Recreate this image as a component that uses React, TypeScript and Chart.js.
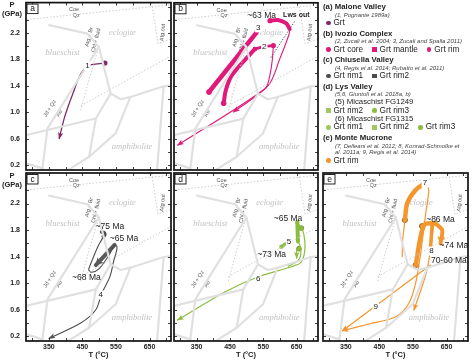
import React, { useEffect, useRef } from 'react';
import { Chart, registerables } from 'chart.js';
Chart.register(...registerables);

type Pt = [number, number];

// ---- axes ----
const T_RANGE: Pt = [282, 714];
const P_RANGE: Pt = [0.13, 2.66];
const tLabels = [350, 450, 550, 650];
const pLabels = [0.2, 0.6, 1.0, 1.4, 1.8, 2.2];
const tTickMarks = [300, 350, 400, 450, 500, 550, 600, 650, 700];
const pTickMarks = [0.2, 0.4, 0.6, 0.8, 1.0, 1.2, 1.4, 1.6, 1.8, 2.0, 2.2, 2.4, 2.6];

// ---- petrogenetic grid (T °C, P GPa) ----
const bgLineA: Pt[] = [[351, 2.32], [465, 2.19], [499, 1.99], [534, 1.285], [564, 1.2], [593, 1.234], [692, 1.395], [720, 1.41]];
const bgLineB: Pt[] = [[534, 1.285], [490, 0.908], [275, 0.65]];
const bgLineC: Pt[] = [[593, 1.234], [549, 0.683], [470, 0.33], [415, 0.155], [395, 0.1]];
const bgLineD: Pt[] = [[490, 0.908], [470, 0.33]];
const bgLineE: Pt[] = [[499, 1.99], [346, 0.758], [331, 0.155], [329, 0.1]];
const bgLineF: Pt[] = [[275, 0.245], [331, 0.155]];
const bgLineG: Pt[] = [[692, 1.395], [672, 0.1]];
const bgDashCoe: Pt[] = [[275, 2.4], [720, 2.63]];
const bgDashAtg: Pt[] = [[655, 2.7], [675, 2.04], [720, 2.12]];
const bgDashChl: Pt[] = [[445, 1.03], [470, 1.5], [499, 1.99]];
const bgDashJd: Pt[] = [[445, 1.1], [529, 1.335], [720, 1.87]];

const faciesNames = ['eclogite', 'blueschist', 'amphibolite'];
const faciesT = [569, 391, 598];
const faciesP = [2.21, 1.9, 0.48];

const reactionNames = ['Coe', 'Qz', 'Atg + Br', 'Chl + fluid', 'Atg out', 'Jd + Qz', 'Ab'];
const reactionT = [425, 432, 470, 491, 689, 353, 381];
const reactionP = [2.55, 2.465, 2.14, 2.09, 2.21, 1.06, 0.985];
const reactionRot = [0, 0, -76, -76, -84, -57, -57];

// ---- (a) Malone Valley ----
const pathMalone: Pt[] = [[517, 1.746], [495, 1.735], [470, 1.711], [447, 1.6], [422, 1.29], [397, 0.93], [381, 0.607]];
const grtMalone: Pt[] = [[517, 1.746]];

// ---- (b) Ivozio Complex ----
const bandIvozio3: Pt[] = [[387, 1.31], [530, 2.213]];
const bandIvozio2: Pt[] = [[431, 1.14], [437, 1.33], [455, 1.56], [525, 1.963]];
const bandIvozio2r: Pt[] = [[525, 1.963], [555, 2.0], [580, 2.012]];
const arcIvozio: Pt[] = [[570, 2.389], [594, 2.4], [619, 2.348], [629, 2.264]];
const retroIvozio3: Pt[] = [[629, 2.264], [627, 2.18], [600, 1.82], [565, 1.41], [461, 1.008]];
const retroIvozio2: Pt[] = [[580, 2.012], [577, 1.8], [569, 1.55], [555, 1.36], [293, 0.506]];
const lwsOut: Pt[] = [[644, 2.378], [570, 1.812]];
const grtCoreIvozio: Pt[] = [[387, 1.31], [431, 1.14]];
const grtMantleIvozio: Pt[] = [[525, 1.963]];
const grtRimIvozio: Pt[] = [[580, 2.012], [570, 2.389]];

// ---- (c) Chiusella Valley ----
const blobChiusella: Pt[] = [[507, 1.77], [514, 1.765], [517, 1.73], [512, 1.7]];
const loopChiusella: Pt[] = [[515, 1.76], [511, 1.69], [496, 1.55], [473, 1.27], [469, 1.2], [478, 1.165], [500, 1.22], [530, 1.43], [546, 1.575], [553, 1.55], [550, 1.45], [544, 1.35], [532, 1.1], [508, 0.85], [490, 0.6], [445, 0.4], [351, 0.17]];
const bandChiusella: Pt[] = [[546, 1.576], [490, 1.274]];

// ---- (d) Lys Valley ----
const bandLys6: Pt[] = [[652, 1.92], [654, 1.63]];
const bandLys5: Pt[] = [[604, 1.55], [619, 1.6]];
const retroLys6: Pt[] = [[655, 1.9], [668, 1.8], [675, 1.55], [664, 1.32], [634, 1.249], [535, 1.098], [436, 0.872], [293, 0.446]];
const retroLys5: Pt[] = [[652, 1.66], [661, 1.55], [662, 1.42], [652, 1.33], [625, 1.255]];
const arrowLys: Pt[] = [[650, 1.52], [650, 1.38]];
const grtSqLys: Pt[] = [[652, 1.92], [604, 1.55]];
const grtCircLys: Pt[] = [[664, 1.83], [657, 1.52]];

// ---- (e) Monte Mucrone ----
const band7: Pt[] = [[526, 1.952], [533, 2.204], [558, 2.404], [588, 2.514]];
const retro7: Pt[] = [[588, 2.514], [597, 2.404], [588, 2.053], [573, 1.45], [558, 1.0], [538, 0.698], [499, 0.496], [419, 0.386], [340, 0.285]];
const side7: Pt[] = [[526, 1.95], [519, 1.62], [518, 1.4]];
const band8a: Pt[] = [[558, 1.274], [583, 1.877], [617, 1.902]];
const band8b: Pt[] = [[617, 1.902], [637, 1.8], [632, 1.6]];
const band8c: Pt[] = [[607, 1.877], [602, 1.5]];
const retro8: Pt[] = [[612, 1.88], [592, 1.2], [553, 0.597]];
const path9: Pt[] = [[602, 1.274], [340, 0.285]];
const grtRimMucrone: Pt[] = [[526, 1.952], [558, 1.274], [577, 1.86]];

// ---- path labels ----
const labelsA: [string, number, number][] = [['1', 465, 1.71]];
const labelsB: [string, number, number][] = [['3', 535, 2.28], ['2', 553, 1.99], ['~63 Ma', 545, 2.464], ['Lws out', 649, 2.479]];
const labelsC: [string, number, number][] = [['~75 Ma', 532, 1.851], ['~65 Ma', 574, 1.677], ['~68 Ma', 462, 1.089], ['4', 504.5, 0.823]];
const labelsD: [string, number, number][] = [['~65 Ma', 624, 1.978], ['~73 Ma', 575, 1.425], ['5', 627, 1.625], ['6', 535, 1.074]];
const labelsE: [string, number, number][] = [['7', 585.5, 2.505], ['~86 Ma', 632, 1.963], ['~74 Ma', 672, 1.561], ['70-60 Ma', 657, 1.339], ['8', 605, 1.485], ['9', 439, 0.647]];

// ---- styles ----
const PURPLE = '#7b2a6d';
const PINK = '#e0197a';
const DARK = '#4d4d4d';
const GREEN = '#8cbc3c';
const GREEN_L = '#a3c760';
const ORANGE = '#f3962e';
const GRID = '#e0e0e0';
const GRID_DASH = '#cdcdcd';
const SANS = '"Liberation Sans", Arial, sans-serif';
const SERIF = '"Liberation Serif", "Times New Roman", serif';

const W = 474, H = 360;

function lineDs(pts: Pt[], color: string, width: number, o: any = {}) {
  return {
    data: pts.map(([x, y]) => ({ x, y })),
    borderColor: color,
    backgroundColor: color,
    borderWidth: width,
    showLine: true,
    pointRadius: 0,
    pointHoverRadius: 0,
    tension: o.tension ?? 0,
    borderDash: o.dash ?? [],
    borderCapStyle: o.cap ?? 'round',
    borderJoinStyle: 'round',
    clip: 0,
    arrow: o.arrow ?? 0,
  };
}
function markerDs(pts: Pt[], color: string, style: string, r: number, border?: string) {
  return {
    data: pts.map(([x, y]) => ({ x, y })),
    showLine: false,
    pointStyle: style,
    pointRadius: r,
    pointHoverRadius: r,
    pointBackgroundColor: color,
    pointBorderColor: border ?? color,
    pointBorderWidth: border ? 0.8 : 0,
    clip: 0,
  };
}

function background() {
  return [
    lineDs(bgLineA, GRID, 2.2),
    lineDs(bgLineB, GRID, 2.2),
    lineDs(bgLineC, GRID, 2.2),
    lineDs(bgLineD, GRID, 2.2),
    lineDs(bgLineE, GRID, 2.2),
    lineDs(bgLineF, GRID, 2.2),
    lineDs(bgLineG, GRID, 2.2),
    lineDs(bgDashCoe, GRID_DASH, 1, { dash: [1.5, 1.8], cap: 'butt' }),
    lineDs(bgDashAtg, GRID_DASH, 1, { dash: [1.5, 1.8], cap: 'butt' }),
    lineDs(bgDashChl, GRID_DASH, 1, { dash: [1.5, 1.8], cap: 'butt' }),
    lineDs(bgDashJd, GRID_DASH, 1, { dash: [1.5, 1.8], cap: 'butt' }),
  ];
}

interface PanelCfg {
  key: string; left: number; top: number; right: number; bottom: number;
  showP: boolean; showT: boolean; datasets: any[]; labels: [string, number, number][];
}

const TS = 0.3;
const panels: PanelCfg[] = [
  {
    key: 'a', left: 26, top: 2, right: 171, bottom: 170, showP: true, showT: false,
    datasets: [
      lineDs(pathMalone, PURPLE, 1.3, { tension: TS, arrow: 1 }),
      markerDs(grtMalone, PURPLE, 'circle', 2.6),
    ],
    labels: labelsA,
  },
  {
    key: 'b', left: 174, top: 2, right: 318, bottom: 170, showP: false, showT: false,
    datasets: [
      lineDs(lwsOut, '#555', 0.9, { dash: [1.5, 1.5], cap: 'butt' }),
      lineDs(retroIvozio3, PINK, 1.1, { tension: TS, arrow: 1 }),
      lineDs(retroIvozio2, PINK, 1.1, { tension: TS, arrow: 1 }),
      lineDs(bandIvozio3, PINK, 4.5),
      lineDs(bandIvozio2, PINK, 4, { tension: TS }),
      lineDs(bandIvozio2r, PINK, 2.8, { tension: TS }),
      lineDs(arcIvozio, PINK, 4, { tension: TS }),
      markerDs(grtCoreIvozio, PINK, 'circle', 2.8),
      markerDs(grtMantleIvozio, PINK, 'rect', 2.8),
      markerDs(grtRimIvozio, PINK, 'circle', 2.6),
    ],
    labels: labelsB,
  },
  {
    key: 'c', left: 26, top: 173, right: 171, bottom: 341, showP: true, showT: true,
    datasets: [
      lineDs(loopChiusella, DARK, 1.1, { tension: TS, arrow: 1 }),
      lineDs(bandChiusella, '#5a5a5a', 4, { arrow: 2 }),
      lineDs(blobChiusella, DARK, 3.5, { tension: TS }),
    ],
    labels: labelsC,
  },
  {
    key: 'd', left: 174, top: 173, right: 318, bottom: 341, showP: false, showT: true,
    datasets: [
      lineDs(retroLys6, GREEN, 1.2, { tension: TS, arrow: 1 }),
      lineDs(retroLys5, GREEN, 1.2, { tension: TS }),
      lineDs(arrowLys, GREEN, 1.2, { arrow: 1 }),
      lineDs(bandLys6, GREEN, 4),
      lineDs(bandLys5, GREEN, 3.5),
      markerDs(grtSqLys, GREEN_L, 'rect', 2.6),
      markerDs(grtCircLys, GREEN, 'circle', 2.4, '#6a8a2a'),
    ],
    labels: labelsD,
  },
  {
    key: 'e', left: 323, top: 173, right: 468, bottom: 341, showP: false, showT: true,
    datasets: [
      lineDs(retro7, ORANGE, 1.2, { tension: TS, arrow: 1 }),
      lineDs(side7, ORANGE, 1.2, { tension: TS }),
      lineDs(path9, ORANGE, 1.2, { arrow: 1 }),
      lineDs(retro8, ORANGE, 1.2, { tension: TS, arrow: 1 }),
      lineDs(band7, ORANGE, 4.5, { tension: TS }),
      lineDs(band8a, ORANGE, 4.5, { tension: TS }),
      lineDs(band8b, ORANGE, 4, { tension: TS, arrow: 2 }),
      lineDs(band8c, ORANGE, 3.5),
      markerDs(grtRimMucrone, ORANGE, 'circle', 2.6, '#8a4a10'),
    ],
    labels: labelsE,
  },
];

function drawText(ctx: CanvasRenderingContext2D, text: string, x: number, y: number, font: string, color: string, rot = 0, bg = false) {
  ctx.save();
  ctx.translate(x, y);
  if (rot) ctx.rotate((rot * Math.PI) / 180);
  ctx.font = font;
  ctx.textAlign = 'center';
  ctx.textBaseline = 'middle';
  if (bg) {
    const w = ctx.measureText(text).width;
    ctx.fillStyle = '#fff';
    ctx.fillRect(-w / 2 - 1, -4.5, w + 2, 9);
  }
  ctx.fillStyle = color;
  ctx.fillText(text, 0, 0);
  ctx.restore();
}

function makeDeco(p: PanelCfg) {
  return {
    id: 'deco_' + p.key,
    beforeDatasetsDraw(chart: any) {
      const { ctx, chartArea: a, scales } = chart;
      ctx.save();
      ctx.beginPath();
      ctx.rect(a.left, a.top, a.right - a.left, a.bottom - a.top);
      ctx.clip();
      faciesNames.forEach((n, i) =>
        drawText(ctx, n, scales.x.getPixelForValue(faciesT[i]), scales.y.getPixelForValue(faciesP[i]), `italic 8.5px ${SERIF}`, '#c2c2c2'));
      reactionNames.forEach((n, i) =>
        drawText(ctx, n, scales.x.getPixelForValue(reactionT[i]), scales.y.getPixelForValue(reactionP[i]), `5.5px ${SANS}`, '#555', reactionRot[i]));
      ctx.restore();
    },
    afterDatasetsDraw(chart: any) {
      const { ctx, chartArea: a, scales } = chart;
      // arrow heads
      chart.data.datasets.forEach((ds: any, i: number) => {
        if (!ds.arrow) return;
        const pts = chart.getDatasetMeta(i).data;
        const p1 = pts[pts.length - 2], p2 = pts[pts.length - 1];
        const ang = Math.atan2(p2.y - p1.y, p2.x - p1.x);
        const len = ds.arrow === 2 ? 7 : 6, hw = ds.arrow === 2 ? 4 : 2.6;
        ctx.save();
        ctx.translate(p2.x, p2.y);
        ctx.rotate(ang);
        ctx.fillStyle = ds.borderColor;
        ctx.beginPath();
        ctx.moveTo(1, 0);
        ctx.lineTo(-len, -hw);
        ctx.lineTo(-len * 0.75, 0);
        ctx.lineTo(-len, hw);
        ctx.closePath();
        ctx.fill();
        ctx.restore();
      });
      // path labels
      p.labels.forEach(([t, T, P]) => {
        const isNum = /^\d$/.test(t);
        const font = t === 'Lws out' ? `bold 7px ${SANS}` : isNum ? `8px ${SANS}` : `8.5px ${SANS}`;
        drawText(ctx, t, scales.x.getPixelForValue(T), scales.y.getPixelForValue(P), font, '#222', 0, isNum);
      });
      // frame
      ctx.save();
      ctx.strokeStyle = '#111';
      ctx.lineWidth = 1.7;
      ctx.strokeRect(a.left, a.top, a.right - a.left, a.bottom - a.top);
      // inward ticks
      ctx.lineWidth = 0.8;
      ctx.beginPath();
      tTickMarks.forEach((t) => {
        const x = Math.round(scales.x.getPixelForValue(t)) + 0.5;
        ctx.moveTo(x, a.top); ctx.lineTo(x, a.top + 3);
        ctx.moveTo(x, a.bottom); ctx.lineTo(x, a.bottom - 3);
      });
      pTickMarks.forEach((v) => {
        const y = Math.round(scales.y.getPixelForValue(v)) + 0.5;
        ctx.moveTo(a.left, y); ctx.lineTo(a.left + 3, y);
        ctx.moveTo(a.right, y); ctx.lineTo(a.right - 3, y);
      });
      ctx.stroke();
      // panel letter
      ctx.fillStyle = '#fff';
      ctx.fillRect(a.left + 1, a.top + 1.5, 11, 9.5);
      ctx.lineWidth = 0.9;
      ctx.strokeRect(a.left + 1, a.top + 1.5, 11, 9.5);
      ctx.restore();
      drawText(ctx, p.key, a.left + 6.5, a.top + 6.2, `8.5px ${SANS}`, '#111');
      // tick labels
      if (p.showP) {
        ctx.save();
        ctx.font = `bold 7px ${SANS}`;
        ctx.fillStyle = '#222';
        ctx.textAlign = 'right';
        ctx.textBaseline = 'middle';
        pLabels.forEach((v) => ctx.fillText(v.toFixed(1), a.left - 6, scales.y.getPixelForValue(v)));
        ctx.restore();
        drawText(ctx, 'P', 12, a.top + 2.5, `bold 7.5px ${SANS}`, '#222');
        drawText(ctx, '(GPa)', 12, a.top + 11.5, `bold 7.5px ${SANS}`, '#222');
      }
      if (p.showT) {
        tLabels.forEach((t) => drawText(ctx, String(t), scales.x.getPixelForValue(t), a.bottom + 6, `bold 7px ${SANS}`, '#222'));
        drawText(ctx, 'T (°C)', (a.left + a.right) / 2, a.bottom + 13.5, `bold 7.5px ${SANS}`, '#222');
      }
    },
  };
}

function Panel({ cfg }: { cfg: PanelCfg }) {
  const ref = useRef<HTMLCanvasElement>(null);
  useEffect(() => {
    const chart = new Chart(ref.current as HTMLCanvasElement, {
      type: 'scatter',
      data: { datasets: [...background(), ...cfg.datasets] as any },
      options: {
        animation: false,
        responsive: false,
        devicePixelRatio: 1,
        events: [],
        layout: { padding: { left: cfg.left, top: cfg.top, right: W - cfg.right, bottom: H - cfg.bottom } },
        scales: {
          x: { type: 'linear', min: T_RANGE[0], max: T_RANGE[1], display: false },
          y: { type: 'linear', min: P_RANGE[0], max: P_RANGE[1], display: false },
        },
        plugins: { legend: { display: false }, tooltip: { enabled: false } },
      } as any,
      plugins: [makeDeco(cfg)],
    });
    return () => chart.destroy();
  }, []);
  return <canvas ref={ref} width={W} height={H} style={{ position: 'absolute', left: 0, top: 0, width: W, height: H }} />;
}

// ---- legend ----
type Item = [string, string, string];
const legendA: Item[] = [['c', PURPLE, 'Grt']];
const legendB: Item[] = [['c', PINK, 'Grt core'], ['s', PINK, 'Grt mantle'], ['c', PINK, 'Grt rim']];
const legendC: Item[] = [['c', DARK, 'Grt rim1'], ['s', DARK, 'Grt rim2']];
const legendD5: Item[] = [['s', GREEN_L, 'Grt rim2'], ['c', GREEN, 'Grt rim3']];
const legendD6: Item[] = [['c', GREEN_L, 'Grt rim1'], ['s', GREEN_L, 'Grt rim2'], ['c', GREEN, 'Grt rim3']];
const legendE: Item[] = [['c', ORANGE, 'Grt rim']];

type LLine = ['h' | 'r' | 's' | 'i', string | Item[]];
const legendLines: LLine[] = [
  ['h', '(a) Malone Valley'], ['r', '(1, Pognante 1989a)'], ['i', legendA],
  ['h', '(b) Ivozio Complex'], ['r', '(2, Zucali et al. 2004; 3, Zucali and Spalla 2011)'], ['i', legendB],
  ['h', '(c) Chiusella Valley'], ['r', '(4, Regis et al. 2014; Rubatto et al. 2011)'], ['i', legendC],
  ['h', '(d) Lys Valley'], ['r', '(5,6, Giuntoli et al. 2018a, b)'], ['s', '(5) Micaschist FG1249'], ['i', legendD5],
  ['s', '(6) Micaschist FG1315'], ['i', legendD6],
  ['h', '(e) Monte Mucrone'], ['r', '(7, Delleani et al. 2012; 8, Konrad-Schmolke et'], ['r', 'al. 2011a; 9, Regis et al. 2014)'], ['i', legendE],
];

function Legend() {
  let y = 7.3;
  let prev: string | null = null;
  const out: any[] = [];
  legendLines.forEach(([k, c], idx) => {
    if (prev !== null) {
      if (k === 'h') y += 10.6;
      else if (k === 'r') y += prev === 'r' ? 6.8 : 7.6;
      else if (k === 's') y += prev === 'r' ? 7.7 : 8.4;
      else y += prev === 's' ? 8.4 : 8.3;
    }
    prev = k;
    const base: any = { position: 'absolute', top: y - 5, height: 10, lineHeight: '10px', whiteSpace: 'nowrap', fontFamily: SANS, color: '#222' };
    if (k === 'h') out.push(<div key={idx} style={{ ...base, left: 323, fontSize: 7.8, fontWeight: 'bold' }}>{c as string}</div>);
    else if (k === 'r') out.push(<div key={idx} style={{ ...base, left: 335, fontSize: 6, fontStyle: 'italic', color: '#444' }}>{c as string}</div>);
    else if (k === 's') out.push(<div key={idx} style={{ ...base, left: 335, fontSize: 7.8 }}>{c as string}</div>);
    else out.push(
      <div key={idx} style={{ ...base, left: 326, fontSize: 8.2, display: 'flex', alignItems: 'center' }}>
        {(c as Item[]).map(([s, col, t], j) => (
          <span key={j} style={{ display: 'inline-flex', alignItems: 'center', marginRight: 9 }}>
            <span style={{ display: 'inline-block', width: 4.5, height: 4.5, background: col, borderRadius: s === 'c' ? '50%' : 0, marginRight: 3 }} />
            {t}
          </span>
        ))}
      </div>
    );
  });
  return <>{out}</>;
}

export default function App() {
  return (
    <div style={{ position: 'fixed', left: 0, top: 0, width: W, height: H, background: '#fff', overflow: 'hidden' }}>
      {panels.map((p) => <Panel key={p.key} cfg={p} />)}
      <Legend />
    </div>
  );
}
